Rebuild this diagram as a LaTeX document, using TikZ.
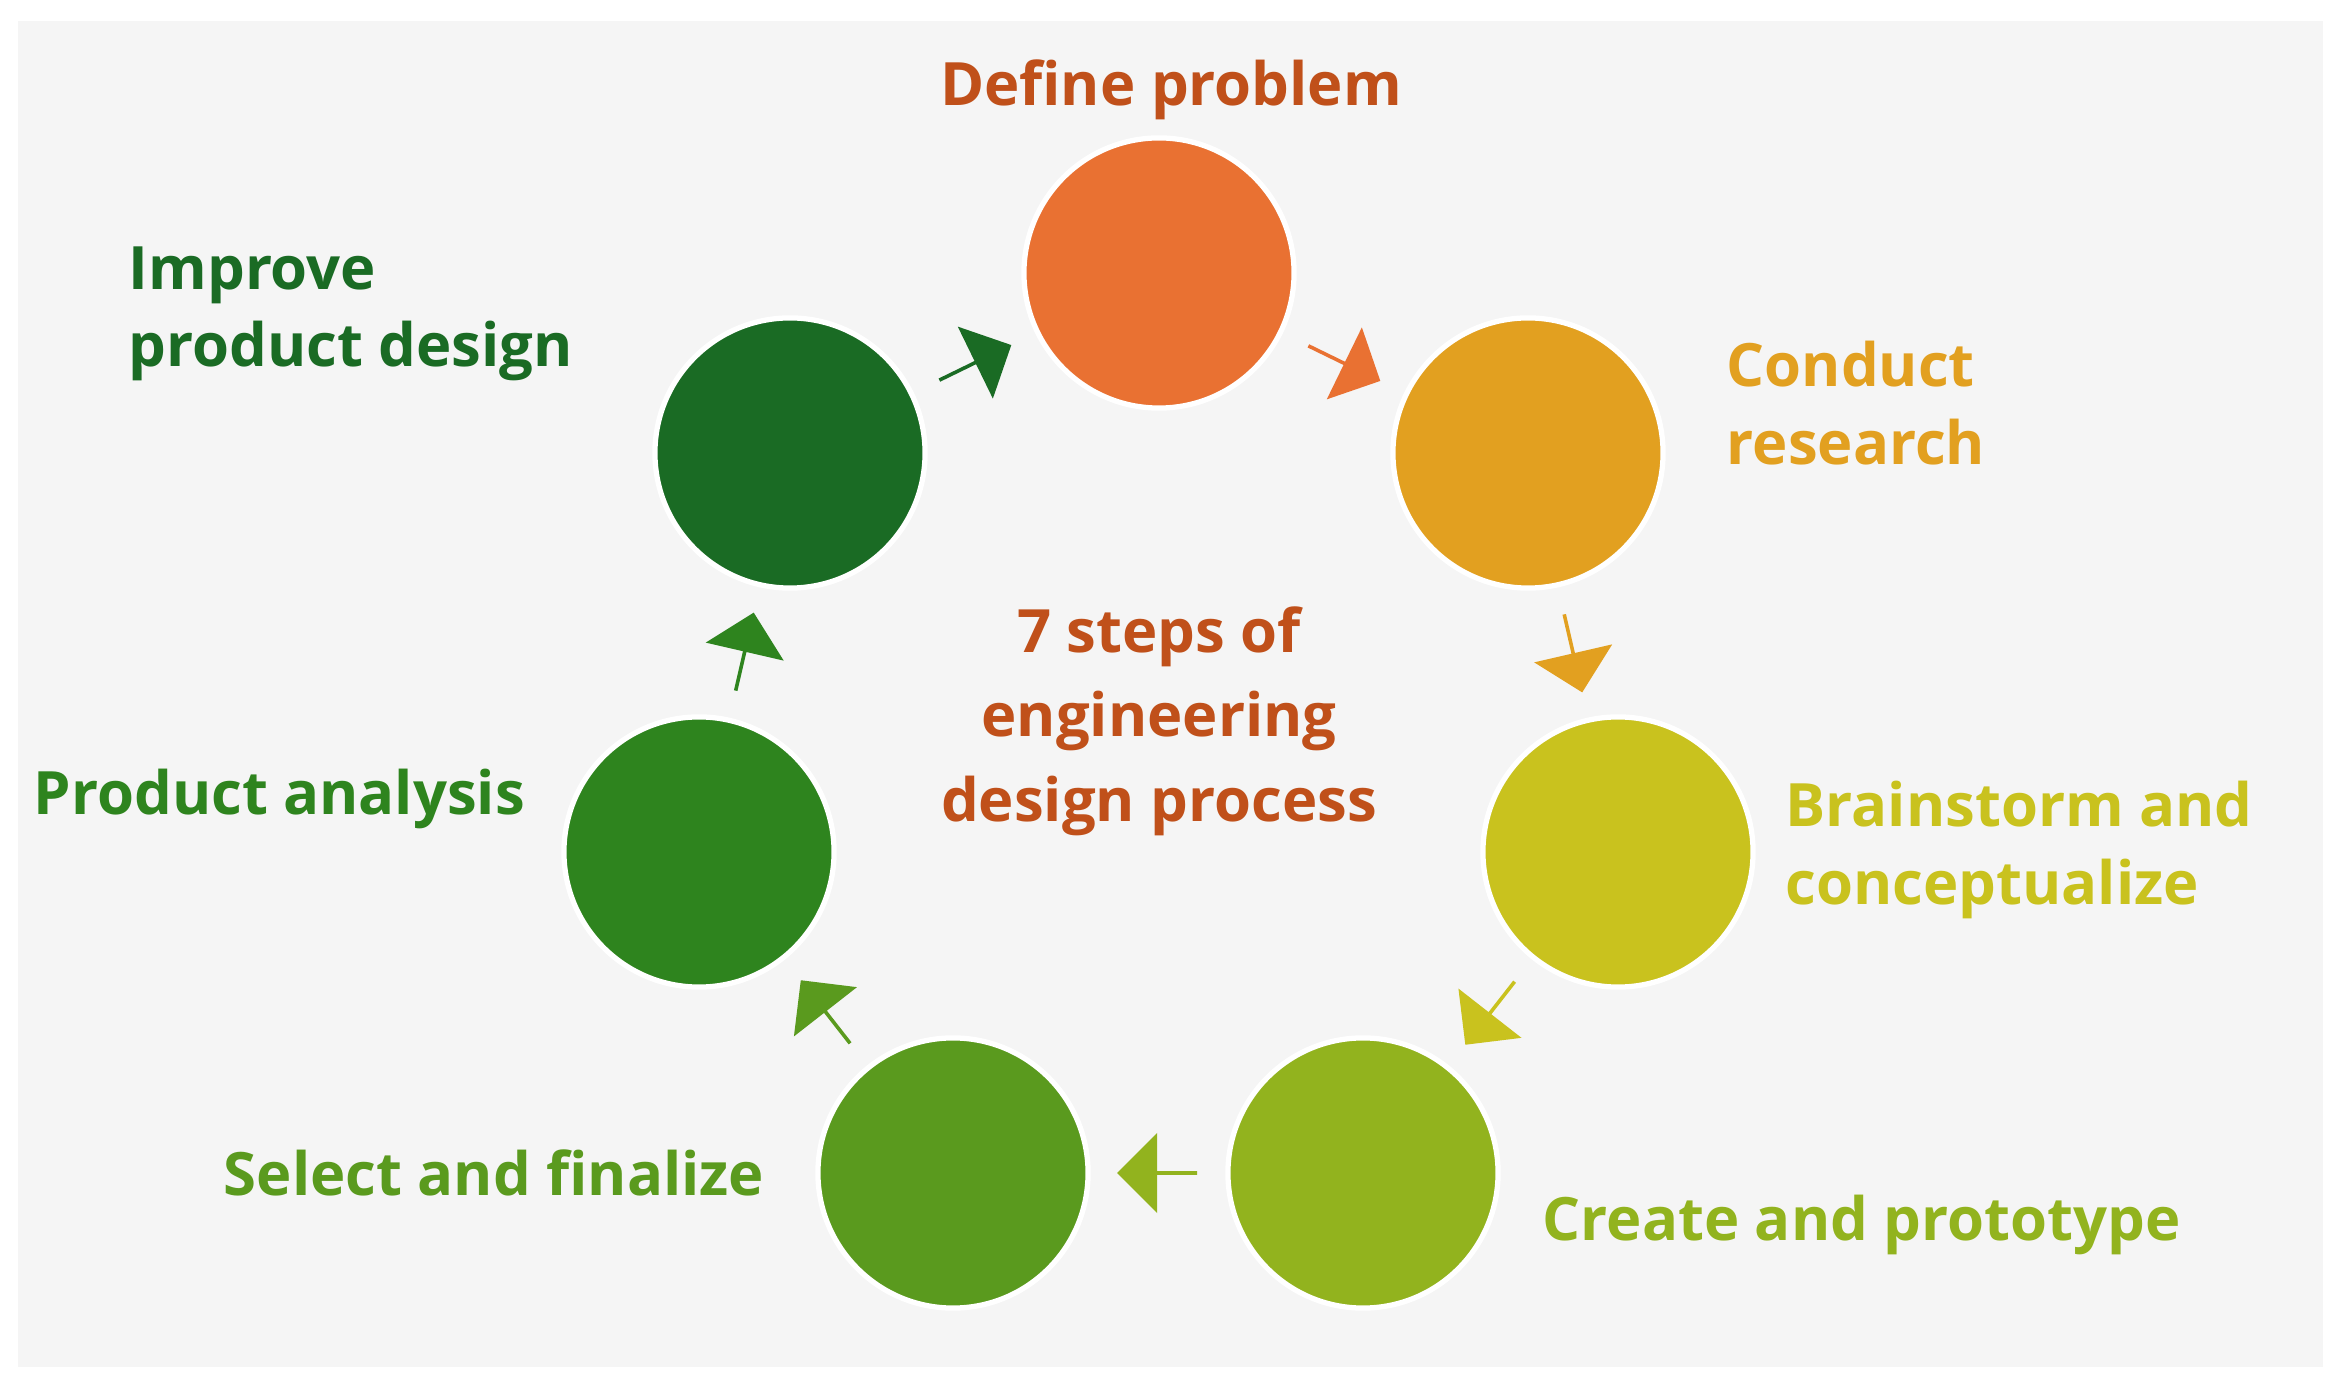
\documentclass[tikz,border=0pt]{standalone}
\usepackage{fontspec}
\setmainfont{Open Sans}
\usetikzlibrary{shapes.arrows,calc}
\definecolor{cDefine}{HTML}{E97132}
\definecolor{cConduct}{HTML}{E2A020}
\definecolor{cBrain}{HTML}{C9C21E}
\definecolor{cCreate}{HTML}{92B31E}
\definecolor{cSelect}{HTML}{5A9A1E}
\definecolor{cAnalysis}{HTML}{2E841E}
\definecolor{cImprove}{HTML}{1A6B24}
\definecolor{cTitle}{HTML}{C0501A}
\definecolor{bg}{HTML}{F5F5F5}
\begin{document}
\begin{tikzpicture}[
x=0.01cm,y=-0.01cm,
Step/.style={circle,draw=white,line width=1.5pt,minimum size=2.7cm,fill=#1},
Flow/.style={single arrow,fill=#1,inner sep=0pt,minimum height=0.8cm,minimum width=0.8cm,single arrow head extend=0.15cm},
Label/.style={text=#1,font=\fontsize{17}{22}\selectfont\bfseries,inner sep=0pt}
]
\useasboundingbox (0,0) rectangle (2342,1386);
\fill[bg] (18,21) rectangle (2323,1367);

% the seven steps
\node[Step=cDefine]   (define)   at (1159,273)  {};
\node[Step=cConduct]  (conduct)  at (1528,453)  {};
\node[Step=cBrain]    (brain)    at (1618,852)  {};
\node[Step=cCreate]   (create)   at (1363,1173) {};
\node[Step=cSelect]   (select)   at (953,1173)  {};
\node[Step=cAnalysis] (analysis) at (699,852)   {};
\node[Step=cImprove]  (improve)  at (790,453)   {};

% arrows between steps
\node[Flow=cDefine,rotate=-26]   (a1) at ($(define)!0.5!(conduct)$)   {};
\node[Flow=cConduct,rotate=-77]  (a2) at ($(conduct)!0.5!(brain)$)    {};
\node[Flow=cBrain,rotate=-128]   (a3) at ($(brain)!0.5!(create)$)     {};
\node[Flow=cCreate,rotate=180]   (a4) at ($(create)!0.5!(select)$)    {};
\node[Flow=cSelect,rotate=128]   (a5) at ($(select)!0.5!(analysis)$)  {};
\node[Flow=cAnalysis,rotate=77]  (a6) at ($(analysis)!0.5!(improve)$) {};
\node[Flow=cImprove,rotate=26]   (a7) at ($(improve)!0.5!(define)$)   {};

% labels
\node[Label=cTitle] (tDefine) at (1171,90) {Define problem};
\node[Label=cConduct,anchor=west,align=left] (tConduct) at (1726,403) {Conduct\\research};
\node[Label=cBrain,anchor=west,align=left] (tBrain) at (1785,850) {Brainstorm and\\conceptualize};
\node[Label=cCreate,anchor=west] (tCreate) at (1542,1225) {Create and prototype};
\node[Label=cSelect,anchor=east] (tSelect) at (765,1173) {Select and finalize};
\node[Label=cAnalysis,anchor=west] (tAnalysis) at (33,799) {Product analysis};
\node[Label=cImprove,anchor=west,align=left] (tImprove) at (128,314) {Improve\\product design};
\node[Label=cTitle,align=center,font=\fontsize{17}{24}\selectfont\bfseries] (title) at (1159,721) {7 steps of\\engineering\\design process};
\end{tikzpicture}
\end{document}
